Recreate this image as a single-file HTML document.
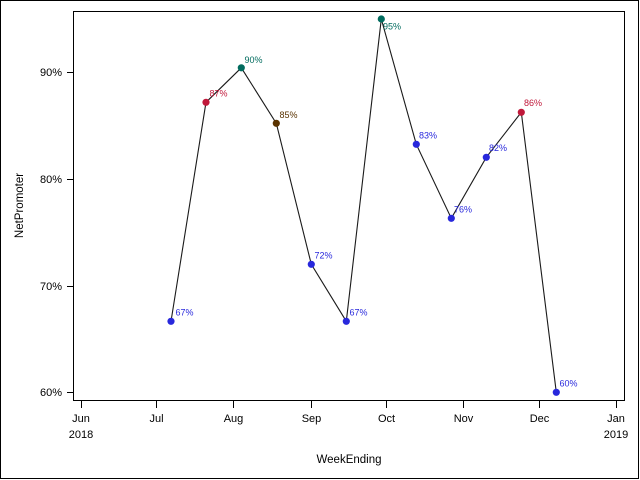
<!DOCTYPE html>
<html>
<head>
<meta charset="utf-8">
<style>
  html,body{margin:0;padding:0;background:#fff;}
  body{width:640px;height:480px;overflow:hidden;}
  svg{display:block;font-family:"Liberation Sans",sans-serif;}
</style>
</head>
<body>
<svg width="640" height="480" viewBox="0 0 640 480" xmlns="http://www.w3.org/2000/svg">
  <rect x="0" y="0" width="640" height="480" fill="#fff"/>
  <rect x="0.5" y="0.5" width="638" height="478" fill="none" stroke="#000" stroke-width="1"/>
  <!-- plot frame -->
  <rect x="73.5" y="11.5" width="551" height="389" fill="none" stroke="#000" stroke-width="1"/>

  <!-- Y ticks -->
  <g stroke="#000" stroke-width="1">
    <line x1="67" y1="72.5" x2="73" y2="72.5"/>
    <line x1="67" y1="179.5" x2="73" y2="179.5"/>
    <line x1="67" y1="286.5" x2="73" y2="286.5"/>
    <line x1="67" y1="392.5" x2="73" y2="392.5"/>
  </g>
  <g font-size="11" fill="#000" text-anchor="end">
    <text x="62" y="76">90%</text>
    <text x="62" y="183">80%</text>
    <text x="62" y="290">70%</text>
    <text x="62" y="396">60%</text>
  </g>

  <!-- X ticks -->
  <g stroke="#000" stroke-width="1">
    <line x1="81.5" y1="401" x2="81.5" y2="408"/>
    <line x1="156.5" y1="401" x2="156.5" y2="408"/>
    <line x1="233.5" y1="401" x2="233.5" y2="408"/>
    <line x1="311.5" y1="401" x2="311.5" y2="408"/>
    <line x1="386.5" y1="401" x2="386.5" y2="408"/>
    <line x1="463.5" y1="401" x2="463.5" y2="408"/>
    <line x1="539.5" y1="401" x2="539.5" y2="408"/>
    <line x1="616.5" y1="401" x2="616.5" y2="408"/>
  </g>
  <g font-size="11" fill="#000" text-anchor="middle">
    <text x="81" y="422">Jun</text>
    <text x="81" y="438">2018</text>
    <text x="156.5" y="422">Jul</text>
    <text x="233.5" y="422">Aug</text>
    <text x="311.5" y="422">Sep</text>
    <text x="386.5" y="422">Oct</text>
    <text x="463.5" y="422">Nov</text>
    <text x="539.5" y="422">Dec</text>
    <text x="616" y="422">Jan</text>
    <text x="616" y="438">2019</text>
  </g>

  <!-- axis titles -->
  <text x="349" y="463" font-size="11.5" text-anchor="middle" fill="#000">WeekEnding</text>
  <text transform="translate(23,205.5) rotate(-90)" font-size="11.5" text-anchor="middle" fill="#000">NetPromoter</text>

  <!-- series line -->
  <polyline fill="none" stroke="#1a1a1a" stroke-width="1.1"
    points="171,321.3 206,102.3 241.3,67.8 276.3,123.3 311.3,264.3 346.3,321.3 381.3,19 416.3,144.3 451.3,218.3 486.3,157.3 521.3,112.3 556.3,392.3"/>

  <!-- markers -->
  <g>
    <circle cx="171" cy="321.3" r="3.6" fill="#2828dc"/>
    <circle cx="206" cy="102.3" r="3.6" fill="#c0183a"/>
    <circle cx="241.3" cy="67.8" r="3.6" fill="#006b5e"/>
    <circle cx="276.3" cy="123.3" r="3.6" fill="#5a3300"/>
    <circle cx="311.3" cy="264.3" r="3.6" fill="#2828dc"/>
    <circle cx="346.3" cy="321.3" r="3.6" fill="#2828dc"/>
    <circle cx="381.3" cy="19" r="3.6" fill="#006b5e"/>
    <circle cx="416.3" cy="144.3" r="3.6" fill="#2828dc"/>
    <circle cx="451.3" cy="218.3" r="3.6" fill="#2828dc"/>
    <circle cx="486.3" cy="157.3" r="3.6" fill="#2828dc"/>
    <circle cx="521.3" cy="112.3" r="3.6" fill="#c0183a"/>
    <circle cx="556.3" cy="392.3" r="3.6" fill="#2828dc"/>
  </g>

  <!-- data labels -->
  <g font-size="9">
    <text x="175.5" y="315.5" fill="#2828dc">67%</text>
    <text x="209.5" y="96.5" fill="#c0183a">87%</text>
    <text x="244.5" y="63" fill="#006b5e">90%</text>
    <text x="279.5" y="118" fill="#5a3300">85%</text>
    <text x="314.5" y="258.5" fill="#2828dc">72%</text>
    <text x="349.5" y="315.5" fill="#2828dc">67%</text>
    <text x="383" y="29.5" fill="#006b5e">95%</text>
    <text x="419" y="138.5" fill="#2828dc">83%</text>
    <text x="454" y="212.5" fill="#2828dc">76%</text>
    <text x="489" y="151" fill="#2828dc">82%</text>
    <text x="524" y="106" fill="#c0183a">86%</text>
    <text x="559.5" y="386.5" fill="#2828dc">60%</text>
  </g>
</svg>
</body>
</html>
